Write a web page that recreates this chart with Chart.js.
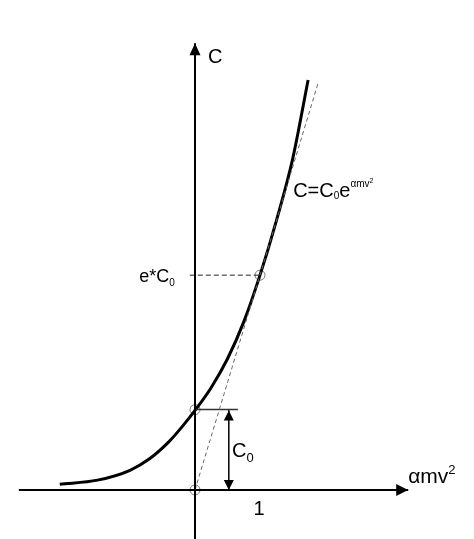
<!DOCTYPE html>
<html>
<head>
<meta charset="utf-8">
<script src="https://cdn.jsdelivr.net/npm/chart.js@4/dist/chart.umd.min.js"></script>
<style>
html,body{margin:0;padding:0;background:#fff;}
#wrap{width:474px;height:539px;position:relative;}
</style>
</head>
<body>
<div id="wrap"><canvas id="c"></canvas></div>
<script>
// ---- data (x in units of alpha*m*v^2, y in units of C0) ----
const curveX = [-2.08, -1.5, -1.0, -0.7, -0.4, -0.2, 0, 0.25, 0.5, 0.75, 1.0, 1.25, 1.5, 1.74];
const curveY = [0.07, 0.12, 0.24, 0.38, 0.59, 0.77, 0.97, 1.25, 1.6, 2.05, 2.62, 3.28, 4.03, 5.0];
const tangentX = [0, 1.9];
const tangentY = [0, 4.98];
const eC0Value = 2.62;
const C0Value = 0.98;
const markedX = [0, 0, 1];
const markedY = [0, 0.98, 2.62];
const xAxisRange = [-2.71, 3.28];
const yAxisRange = [-0.62, 5.45];
const unitTick = 1;
const c0LineEnd = 0.66;
const c0ArrowX = 0.52;
const eLineStart = -0.08;

const pts = (xs, ys) => xs.map((x, i) => ({x, y: ys[i]}));

const labelPlugin = {
  id: 'labels',
  afterDatasetsDraw(chart) {
    const ctx = chart.ctx, sx = chart.scales.x, sy = chart.scales.y;
    const px = v => sx.getPixelForValue(v), py = v => sy.getPixelForValue(v);
    ctx.save();
    ctx.fillStyle = '#000';
    function tri(x, y, dir, len, half) {
      ctx.beginPath();
      if (dir === 'right') { ctx.moveTo(x, y); ctx.lineTo(x - len, y - half); ctx.lineTo(x - len, y + half); }
      if (dir === 'up') { ctx.moveTo(x, y); ctx.lineTo(x - half, y + len); ctx.lineTo(x + half, y + len); }
      if (dir === 'down') { ctx.moveTo(x, y); ctx.lineTo(x - half, y - len); ctx.lineTo(x + half, y - len); }
      ctx.closePath(); ctx.fill();
    }
    tri(px(xAxisRange[1]), py(0), 'right', 12, 6);
    tri(px(0), py(yAxisRange[1]), 'up', 12, 5.5);
    tri(px(c0ArrowX), py(C0Value) + 1, 'up', 10, 5);
    tri(px(c0ArrowX), py(0), 'down', 10, 5);

    const F = 'Liberation Sans, Arial, sans-serif';
    function rich(parts, x, y, align) {
      let w = 0;
      parts.forEach(p => { ctx.font = p.s + 'px ' + F; w += ctx.measureText(p.t).width; });
      let cx = align === 'right' ? x - w : align === 'center' ? x - w / 2 : x;
      ctx.textBaseline = 'alphabetic'; ctx.textAlign = 'left';
      parts.forEach(p => {
        ctx.font = p.s + 'px ' + F;
        ctx.fillText(p.t, cx, y + (p.dy || 0));
        cx += ctx.measureText(p.t).width;
      });
    }
    rich([{t: 'C', s: 20}], px(0.2), py(5.21), 'left');
    rich([{t: 'e*C', s: 18}, {t: '0', s: 10, dy: 4}], px(-0.31), py(2.54), 'right');
    rich([{t: 'C', s: 20}, {t: '0', s: 13, dy: 5}], px(0.57), py(0.40), 'left');
    rich([{t: '1', s: 20}], px(unitTick) - 1, py(-0.305), 'center');
    rich([{t: '\u03B1mv', s: 21}, {t: '2', s: 13, dy: -9}], px(3.28), py(0.085), 'left');
    rich([{t: 'C=C', s: 20}, {t: '0', s: 10, dy: 2}, {t: 'e', s: 20}, {t: '\u03B1mv', s: 10, dy: -10}, {t: '2', s: 7, dy: -14}], px(1.51), py(3.57), 'left');
    ctx.restore();
  }
};

new Chart(document.getElementById('c'), {
  type: 'scatter',
  data: {
    datasets: [
      { data: pts(xAxisRange, [0, 0]), showLine: true, borderColor: '#000', borderWidth: 2, pointRadius: 0 },
      { data: pts([0, 0], yAxisRange), showLine: true, borderColor: '#000', borderWidth: 2, pointRadius: 0 },
      { data: pts(tangentX, tangentY), showLine: true, borderColor: '#666', borderWidth: 1, borderDash: [4, 3], pointRadius: 0 },
      { data: pts([eLineStart, 1], [eC0Value, eC0Value]), showLine: true, borderColor: '#222', borderWidth: 1, borderDash: [5, 3], pointRadius: 0 },
      { data: pts([0, c0LineEnd], [C0Value, C0Value]), showLine: true, borderColor: '#333', borderWidth: 1.5, pointRadius: 0 },
      { data: pts([c0ArrowX, c0ArrowX], [0, C0Value]), showLine: true, borderColor: '#000', borderWidth: 1.5, pointRadius: 0 },
      { data: pts(curveX, curveY), showLine: true, borderColor: '#000', borderWidth: 3, pointRadius: 0, cubicInterpolationMode: 'monotone' },
      { data: pts(markedX, markedY), showLine: false, pointRadius: 5, pointBorderColor: '#777', pointBorderWidth: 1, pointBackgroundColor: 'rgba(0,0,0,0)' }
    ]
  },
  options: {
    responsive: true,
    maintainAspectRatio: false,
    animation: false,
    events: [],
    layout: { padding: 0, autoPadding: false },
    plugins: { legend: { display: false }, tooltip: { enabled: false } },
    scales: {
      x: { type: 'linear', min: -3.0, max: 4.292, display: false },
      y: { type: 'linear', min: -0.598, max: 5.976, display: false }
    }
  },
  plugins: [labelPlugin]
});
</script>
</body>
</html>
